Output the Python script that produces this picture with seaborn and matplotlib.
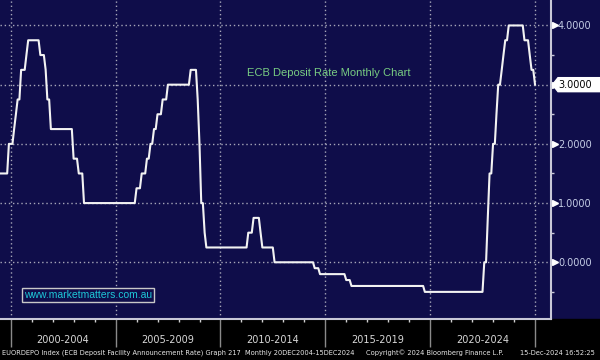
import pandas as pd
import numpy as np
import matplotlib
matplotlib.use("Agg")
import matplotlib.pyplot as plt
import matplotlib.dates as mdates
import matplotlib.transforms as mtransforms
from matplotlib.patches import Polygon, Rectangle
import seaborn as sns

# corner points of the monthly line (month, deposit rate in %)
months = ["1999-05", "1999-10", "1999-11", "2000-01", "2000-02", "2000-03", "2000-04", "2000-05",
          "2000-06", "2000-08", "2000-09", "2000-10", "2001-04", "2001-05", "2001-07", "2001-08",
          "2001-09", "2001-10", "2001-11", "2002-11", "2002-12", "2003-02", "2003-03", "2003-05",
          "2003-06", "2005-11", "2005-12", "2006-02", "2006-03", "2006-05", "2006-06", "2006-07",
          "2006-08", "2006-09", "2006-10", "2006-11", "2006-12", "2007-02", "2007-03", "2007-05",
          "2007-06", "2008-06", "2008-07", "2008-10", "2008-11", "2008-12", "2009-01", "2009-02",
          "2009-03", "2009-04", "2011-03", "2011-04", "2011-06", "2011-07", "2011-10", "2011-11",
          "2011-12", "2012-06", "2012-07", "2014-05", "2014-06", "2014-08", "2014-09", "2015-11",
          "2015-12", "2016-02", "2016-03", "2019-08", "2019-09", "2022-06", "2022-07", "2022-08",
          "2022-09", "2022-10", "2022-11", "2022-12", "2023-01", "2023-02", "2023-03", "2023-04",
          "2023-05", "2023-06", "2023-07", "2023-08", "2023-09", "2024-05", "2024-06", "2024-08",
          "2024-09", "2024-10", "2024-11", "2024-12"]
rates = [1.50, 1.50, 2.00, 2.00, 2.25, 2.50, 2.75, 2.75,
         3.25, 3.25, 3.50, 3.75, 3.75, 3.50, 3.50, 3.25,
         2.75, 2.75, 2.25, 2.25, 1.75, 1.75, 1.50, 1.50,
         1.00, 1.00, 1.25, 1.25, 1.50, 1.50, 1.75, 1.75,
         2.00, 2.00, 2.25, 2.25, 2.50, 2.50, 2.75, 2.75,
         3.00, 3.00, 3.25, 3.25, 2.75, 2.00, 1.00, 1.00,
         0.50, 0.25, 0.25, 0.50, 0.50, 0.75, 0.75, 0.50,
         0.25, 0.25, 0.00, 0.00, -0.10, -0.10, -0.20, -0.20,
         -0.30, -0.30, -0.40, -0.40, -0.50, -0.50, 0.00, 0.00,
         0.75, 1.50, 1.50, 2.00, 2.00, 2.50, 3.00, 3.00,
         3.25, 3.50, 3.75, 3.75, 4.00, 4.00, 3.75, 3.75,
         3.50, 3.25, 3.25, 3.00]

period_labels = ["2000-2004", "2005-2009", "2010-2014", "2015-2019", "2020-2024"]
period_mid = ["2002-07-01", "2007-07-01", "2012-07-01", "2017-07-01", "2022-07-01"]
ytick_vals = [0, 1, 2, 3, 4]
last_value = 3.0

footer = [
    (2, "EUORDEPO Index (ECB Deposit Facility Announcement Rate) Graph 217"),
    (245, "Monthly 20DEC2004-15DEC2024"),
    (366, "Copyright\u00a9 2024 Bloomberg Finance L.P."),
    (520, "15-Dec-2024 16:52:25"),
]

NAVY = "#0f0d4a"
GRID = "#a6a6b8"
AXIS = "#c8c8d8"

sns.set_theme(style="dark")
plt.rcParams["font.family"] = ["DejaVu Sans"]

df = pd.DataFrame({"date": pd.to_datetime(months) + pd.offsets.MonthEnd(0), "rate": rates})

W, H = 600, 360
fig = plt.figure(figsize=(6, 3.6), dpi=100, facecolor=NAVY)
fig.add_artist(Rectangle((0, 0), 1, 41 / H, transform=fig.transFigure,
                         color="black", zorder=-1))
ax = fig.add_axes([0, 41 / H, 551 / W, 319 / H])
ax.set_facecolor(NAVY)

sns.lineplot(data=df, x="date", y="rate", ax=ax, color="#f2f2f2", lw=1.5)

ax.set_xlim(pd.Timestamp("1999-06-28"), pd.Timestamp("2025-10-05"))
ax.set_ylim(-0.958, 4.43)
ax.set_xlabel("")
ax.set_ylabel("")

# x axis: 5-year grid with long ticks, yearly short ticks
ax.xaxis.set_major_locator(mdates.YearLocator(5))
ax.xaxis.set_minor_locator(mdates.YearLocator(1))
ax.tick_params(axis="x", which="major", bottom=True, length=20, width=1,
               color="#8a8a8a", labelbottom=False)
ax.tick_params(axis="x", which="minor", bottom=True, length=2.5, width=1, color="#d0d0d0")

# y axis on the right
ax.set_yticks(ytick_vals)
ax.set_yticks(np.arange(-0.5, 4.5, 0.5), minor=True)
ax.set_yticklabels([f"{v:.4f}" for v in ytick_vals])
ax.yaxis.tick_right()
ax.tick_params(axis="y", which="major", right=True, left=False, length=0, pad=5,
               labelsize=7, labelcolor="#c5cde6", labelright=True, labelleft=False)
ax.tick_params(axis="y", which="minor", right=True, left=False, length=2.5, width=1,
               color=AXIS)

ax.grid(True, which="major", ls=(0, (1, 2)), color=GRID, lw=1)
ax.grid(False, which="minor")

for side in ["top", "left"]:
    ax.spines[side].set_visible(False)
for side in ["right", "bottom"]:
    ax.spines[side].set_visible(True)
    ax.spines[side].set_color(AXIS)
    ax.spines[side].set_linewidth(1.5)

# little arrow heads in front of the y labels
ytrans = mtransforms.blended_transform_factory(ax.transAxes, ax.transData)
ax.plot([1 + 3.5 / 551] * len(ytick_vals), ytick_vals, ls="none", marker=">", ms=4,
        color="white", transform=ytrans, clip_on=False)

# period labels under the axis
xtrans = mtransforms.blended_transform_factory(ax.transData, ax.transAxes)
for lab, mid in zip(period_labels, period_mid):
    ax.text(mdates.date2num(pd.Timestamp(mid)), -21 / 319, lab, transform=xtrans,
            ha="center", va="center", fontsize=7, color="#d8d8d8", clip_on=False)

# last value flag
fig.canvas.draw()
yc = ax.transData.transform((0, last_value))[1]
xa = ax.transAxes.transform((1, 0))[0]
flag = Polygon([(xa + 1.5, yc), (xa + 7, yc + 7), (W, yc + 7), (W, yc - 7), (xa + 7, yc - 7)],
               closed=True, transform=None, facecolor="white", edgecolor="white", zorder=5)
fig.add_artist(flag)
fig.text((xa + 7) / W, yc / H, f"{last_value:.4f}", ha="left", va="center",
         fontsize=7, color="black", zorder=6)

fig.text(328.5 / W, 1 - 73 / H, "ECB Deposit Rate Monthly Chart", ha="center", va="center",
         fontsize=8, color="#78cc82", family="Liberation Sans")
fig.text(88 / W, 1 - 295 / H, "www.marketmatters.com.au", ha="center", va="center",
         fontsize=7.5, color="#1ec8d8", family="Liberation Sans",
         bbox=dict(boxstyle="square,pad=0.15", fc=NAVY, ec="#c8c8c8", lw=1))

for x, txt in footer:
    fig.text(x / W, 1 - 353 / H, txt, ha="left", va="center", fontsize=4.8, color="#e8e8e8")

fig.savefig("out.png", dpi=100, facecolor=NAVY)
